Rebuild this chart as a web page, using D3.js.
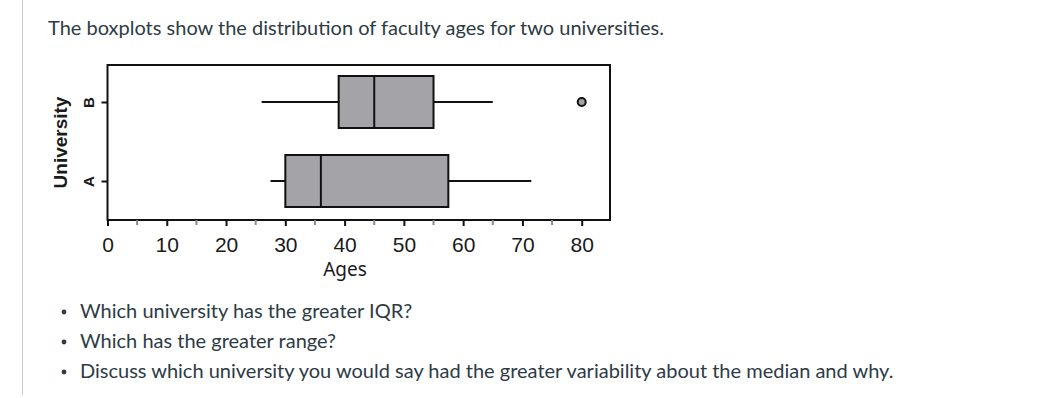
<!DOCTYPE html>
<html>
<head>
<meta charset="utf-8">
<script src="https://cdn.jsdelivr.net/npm/d3@7"></script>
<style>
  body { margin: 0; background: #fff; }
  svg { display: block; }
</style>
</head>
<body>
<div class="chart"></div>
<script>
// values
var universities = ["B", "A"];
var whiskerLow  = [26, 27.5];
var q1          = [39, 30];
var median      = [45, 36];
var q3          = [55, 57.5];
var whiskerHigh = [65, 71.5];
var outlierUni  = ["B"];
var outlierAge  = [80];
var majorTicks  = [0, 10, 20, 30, 40, 50, 60, 70, 80];
var minorTicks  = [5, 15, 25, 35, 45, 55, 65, 75];

var title = "The boxplots show the distribution of faculty ages for two universities.";
var questions = [
    "Which university has the greater IQR?",
    "Which has the greater range?",
    "Discuss which university you would say had the greater variability about the median and why."
];

var width = 1037, height = 398;
var frame = {left: 107.5, top: 65, right: 610, bottom: 220};

var svg = d3.select(".chart")
    .append("svg")
    .attr("width", width)
    .attr("height", height);

// page furniture
svg.append("line")
    .attr("x1", 22.5).attr("x2", 22.5)
    .attr("y1", 0).attr("y2", 395)
    .style("stroke", "#c7cdd1");

svg.append("text")
    .attr("x", 48)
    .attr("y", 35)
    .style("font-family", "Lato")
    .style("font-size", "20px")
    .style("fill", "#2d3b45")
    .text(title);

var x = d3.scaleLinear()
    .domain([0, 80])
    .range([frame.left, 581.7]);

var y = d3.scalePoint()
    .domain(universities)
    .range([102, 181]);

var boxH = 52;

var boxes = universities.map(function(u, i) {
    return {u: u, lo: whiskerLow[i], q1: q1[i], med: median[i], q3: q3[i], hi: whiskerHigh[i]};
});

// frame
svg.append("rect")
    .attr("x", frame.left)
    .attr("y", frame.top)
    .attr("width", frame.right - frame.left)
    .attr("height", frame.bottom - frame.top)
    .style("fill", "none")
    .style("stroke", "#111")
    .style("stroke-width", 2);

// x axis
var xAxis = svg.append("g")
    .attr("transform", "translate(0," + frame.bottom + ")")
    .call(d3.axisBottom(x).tickValues(majorTicks).tickSize(6).tickPadding(11).tickSizeOuter(0));
xAxis.select(".domain").remove();
xAxis.selectAll(".tick line").style("stroke", "#111").style("stroke-width", 2);
xAxis.selectAll(".tick text")
    .style("font-family", "Liberation Sans, Arial")
    .style("font-size", "21px")
    .style("fill", "#1a1a1a");

svg.append("g")
    .selectAll("line")
    .data(minorTicks)
    .enter()
    .append("line")
    .attr("x1", function(d) { return x(d); })
    .attr("x2", function(d) { return x(d); })
    .attr("y1", frame.bottom)
    .attr("y2", frame.bottom + 5)
    .style("stroke", "#888")
    .style("stroke-width", 2);

svg.append("text")
    .attr("x", 345)
    .attr("y", 276)
    .attr("text-anchor", "middle")
    .style("font-family", "Noto Sans")
    .style("font-size", "19px")
    .style("fill", "#1a1a1a")
    .text("Ages");

// y axis
var yAxis = svg.append("g")
    .attr("transform", "translate(" + frame.left + ",0)")
    .call(d3.axisLeft(y).tickSize(6).tickPadding(0).tickSizeOuter(0));
yAxis.select(".domain").remove();
yAxis.selectAll(".tick line").style("stroke", "#111").style("stroke-width", 2);
yAxis.selectAll(".tick text")
    .attr("x", 0)
    .attr("y", 0)
    .attr("dy", 0)
    .attr("transform", "translate(-14,0) rotate(-90)")
    .attr("text-anchor", "middle")
    .style("font-family", "Liberation Sans, Arial")
    .style("font-size", "15px")
    .style("font-weight", "bold")
    .style("fill", "#1a1a1a");

svg.append("text")
    .attr("transform", "translate(67," + ((frame.top + frame.bottom) / 2) + ") rotate(-90)")
    .attr("text-anchor", "middle")
    .style("font-family", "Liberation Sans, Arial")
    .style("font-size", "19px")
    .style("font-weight", "bold")
    .style("fill", "#1a1a1a")
    .text("University");

// whiskers
var g = svg.append("g");
g.selectAll(".whisker-lo")
    .data(boxes)
    .enter()
    .append("line")
    .attr("x1", function(d) { return x(d.lo); })
    .attr("x2", function(d) { return x(d.q1); })
    .attr("y1", function(d) { return y(d.u); })
    .attr("y2", function(d) { return y(d.u); })
    .style("stroke", "#111")
    .style("stroke-width", 2);
g.selectAll(".whisker-hi")
    .data(boxes)
    .enter()
    .append("line")
    .attr("x1", function(d) { return x(d.q3); })
    .attr("x2", function(d) { return x(d.hi); })
    .attr("y1", function(d) { return y(d.u); })
    .attr("y2", function(d) { return y(d.u); })
    .style("stroke", "#111")
    .style("stroke-width", 2);

// boxes
g.selectAll("rect")
    .data(boxes)
    .enter()
    .append("rect")
    .attr("x", function(d) { return x(d.q1); })
    .attr("y", function(d) { return y(d.u) - boxH / 2; })
    .attr("width", function(d) { return x(d.q3) - x(d.q1); })
    .attr("height", boxH)
    .style("fill", "#a4a4a8")
    .style("stroke", "#111")
    .style("stroke-width", 2);

g.selectAll(".median")
    .data(boxes)
    .enter()
    .append("line")
    .attr("x1", function(d) { return x(d.med); })
    .attr("x2", function(d) { return x(d.med); })
    .attr("y1", function(d) { return y(d.u) - boxH / 2; })
    .attr("y2", function(d) { return y(d.u) + boxH / 2; })
    .style("stroke", "#111")
    .style("stroke-width", 2);

// outliers
g.selectAll("circle")
    .data(outlierAge)
    .enter()
    .append("circle")
    .attr("cx", function(d) { return x(d); })
    .attr("cy", function(d, i) { return y(outlierUni[i]); })
    .attr("r", 4)
    .style("fill", "#a4a4a8")
    .style("stroke", "#111")
    .style("stroke-width", 2);

// questions
var q = svg.append("g");
questions.forEach(function(line, i) {
    q.append("circle")
        .attr("cx", 64)
        .attr("cy", 312 + i * 30)
        .attr("r", 2.4)
        .style("fill", "#2d3b45");
    q.append("text")
        .attr("x", 80)
        .attr("y", 318 + i * 30)
        .style("font-family", "Lato")
        .style("font-size", "20px")
        .style("fill", "#2d3b45")
        .text(line);
});
</script>
</body>
</html>
